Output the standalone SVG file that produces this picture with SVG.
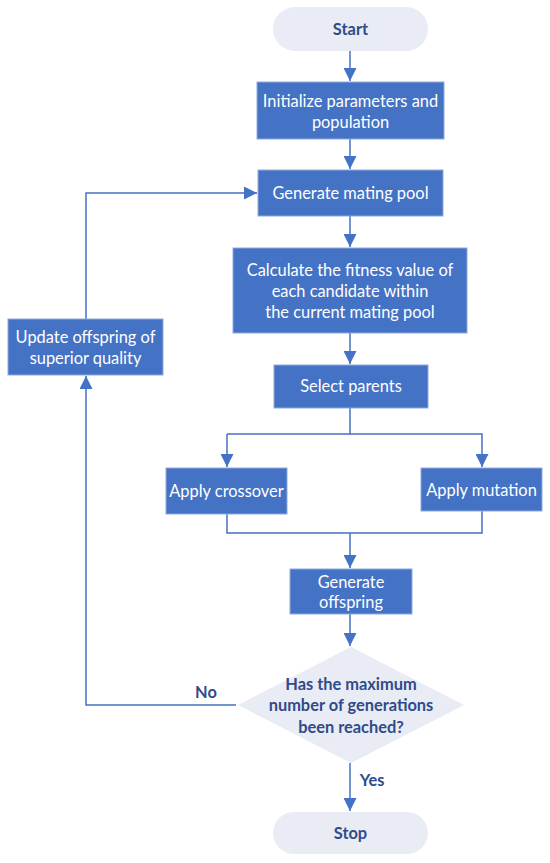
<svg xmlns="http://www.w3.org/2000/svg" width="550" height="863" viewBox="0 0 550 863">
<style>
.box{fill:#4472C4;stroke:#8FAADC;stroke-width:1}
.term{fill:#E9EBF5}
.wt{fill:#FFFFFF;font-family:"Lato","Liberation Sans",sans-serif;font-size:16.4px;text-anchor:middle}
.dt{fill:#2F4B8A;font-family:"Lato","Liberation Sans",sans-serif;font-size:16.4px;font-weight:bold;text-anchor:middle}
.ln{fill:none;stroke:#4472C4;stroke-width:1.5}
</style>
<defs>
<marker id="ah2" viewBox="0 0 10 10" refX="10" refY="5" markerWidth="13" markerHeight="13" markerUnits="userSpaceOnUse" orient="auto">
<path d="M0,0 L10,5 L0,10 z" fill="#4472C4"/>
</marker>
</defs>
<rect width="550" height="863" fill="#FFFFFF"/>
<g id="connectors">
<line class="ln" x1="350" y1="51" x2="350" y2="81" marker-end="url(#ah2)"/>
<line class="ln" x1="350" y1="139" x2="350" y2="169" marker-end="url(#ah2)"/>
<line class="ln" x1="350" y1="216" x2="350" y2="247" marker-end="url(#ah2)"/>
<line class="ln" x1="350" y1="333" x2="350" y2="364" marker-end="url(#ah2)"/>
<polyline class="ln" points="350,408 350,434"/>
<polyline class="ln" points="227,434 482,434 482,467" marker-end="url(#ah2)"/>
<line class="ln" x1="227" y1="434" x2="227" y2="467" marker-end="url(#ah2)"/>
<polyline class="ln" points="227,514 227,533 482,533 482,511"/>
<line class="ln" x1="350" y1="533" x2="350" y2="568" marker-end="url(#ah2)"/>
<line class="ln" x1="350" y1="614" x2="350" y2="646" marker-end="url(#ah2)"/>
<line class="ln" x1="350" y1="763" x2="350" y2="811" marker-end="url(#ah2)"/>
<polyline class="ln" points="236,705 86,705 86,376" marker-end="url(#ah2)"/>
<polyline class="ln" points="86,319 86,193 257,193" marker-end="url(#ah2)"/>
<text class="dt" x="206" y="698">No</text>
<text class="dt" x="372" y="786">Yes</text>
</g>
<g id="start">
<rect class="term" x="273" y="7" width="155" height="44" rx="22"/>
<text class="dt" x="350.5" y="35">Start</text>
</g>
<g id="init">
<rect class="box" x="257" y="82" width="187" height="57"/>
<text class="wt" x="350.5" y="107">Initialize parameters and</text>
<text class="wt" x="350.5" y="128">population</text>
</g>
<g id="mating">
<rect class="box" x="258" y="170" width="185" height="46"/>
<text class="wt" x="350.5" y="199">Generate mating pool</text>
</g>
<g id="fitness">
<rect class="box" x="233" y="248" width="234" height="85"/>
<text class="wt" x="350" y="276">Calculate the fitness value of</text>
<text class="wt" x="350" y="297">each candidate within</text>
<text class="wt" x="350" y="318">the current mating pool</text>
</g>
<g id="select">
<rect class="box" x="274" y="365" width="154" height="43"/>
<text class="wt" x="351" y="392">Select parents</text>
</g>
<g id="crossover">
<rect class="box" x="166" y="468" width="121" height="46"/>
<text class="wt" x="226.5" y="497">Apply crossover</text>
</g>
<g id="mutation">
<rect class="box" x="421" y="468" width="121" height="43"/>
<text class="wt" x="481.5" y="496">Apply mutation</text>
</g>
<g id="offspring">
<rect class="box" x="290" y="569" width="122" height="45"/>
<text class="wt" x="351" y="588">Generate</text>
<text class="wt" x="351" y="608">offspring</text>
</g>
<g id="decision">
<polygon points="351,647 464,705 351,763 238,705" fill="#E9EBF5"/>
<text class="dt" x="351" y="690">Has the maximum</text>
<text class="dt" x="351" y="711">number of generations</text>
<text class="dt" x="351" y="733">been reached?</text>
</g>
<g id="update">
<rect class="box" x="8" y="319" width="155" height="56"/>
<text class="wt" x="85.5" y="343">Update offspring of</text>
<text class="wt" x="85.5" y="364">superior quality</text>
</g>
<g id="stop">
<rect class="term" x="273" y="812" width="155" height="42" rx="21"/>
<text class="dt" x="350.5" y="839">Stop</text>
</g>
</svg>
